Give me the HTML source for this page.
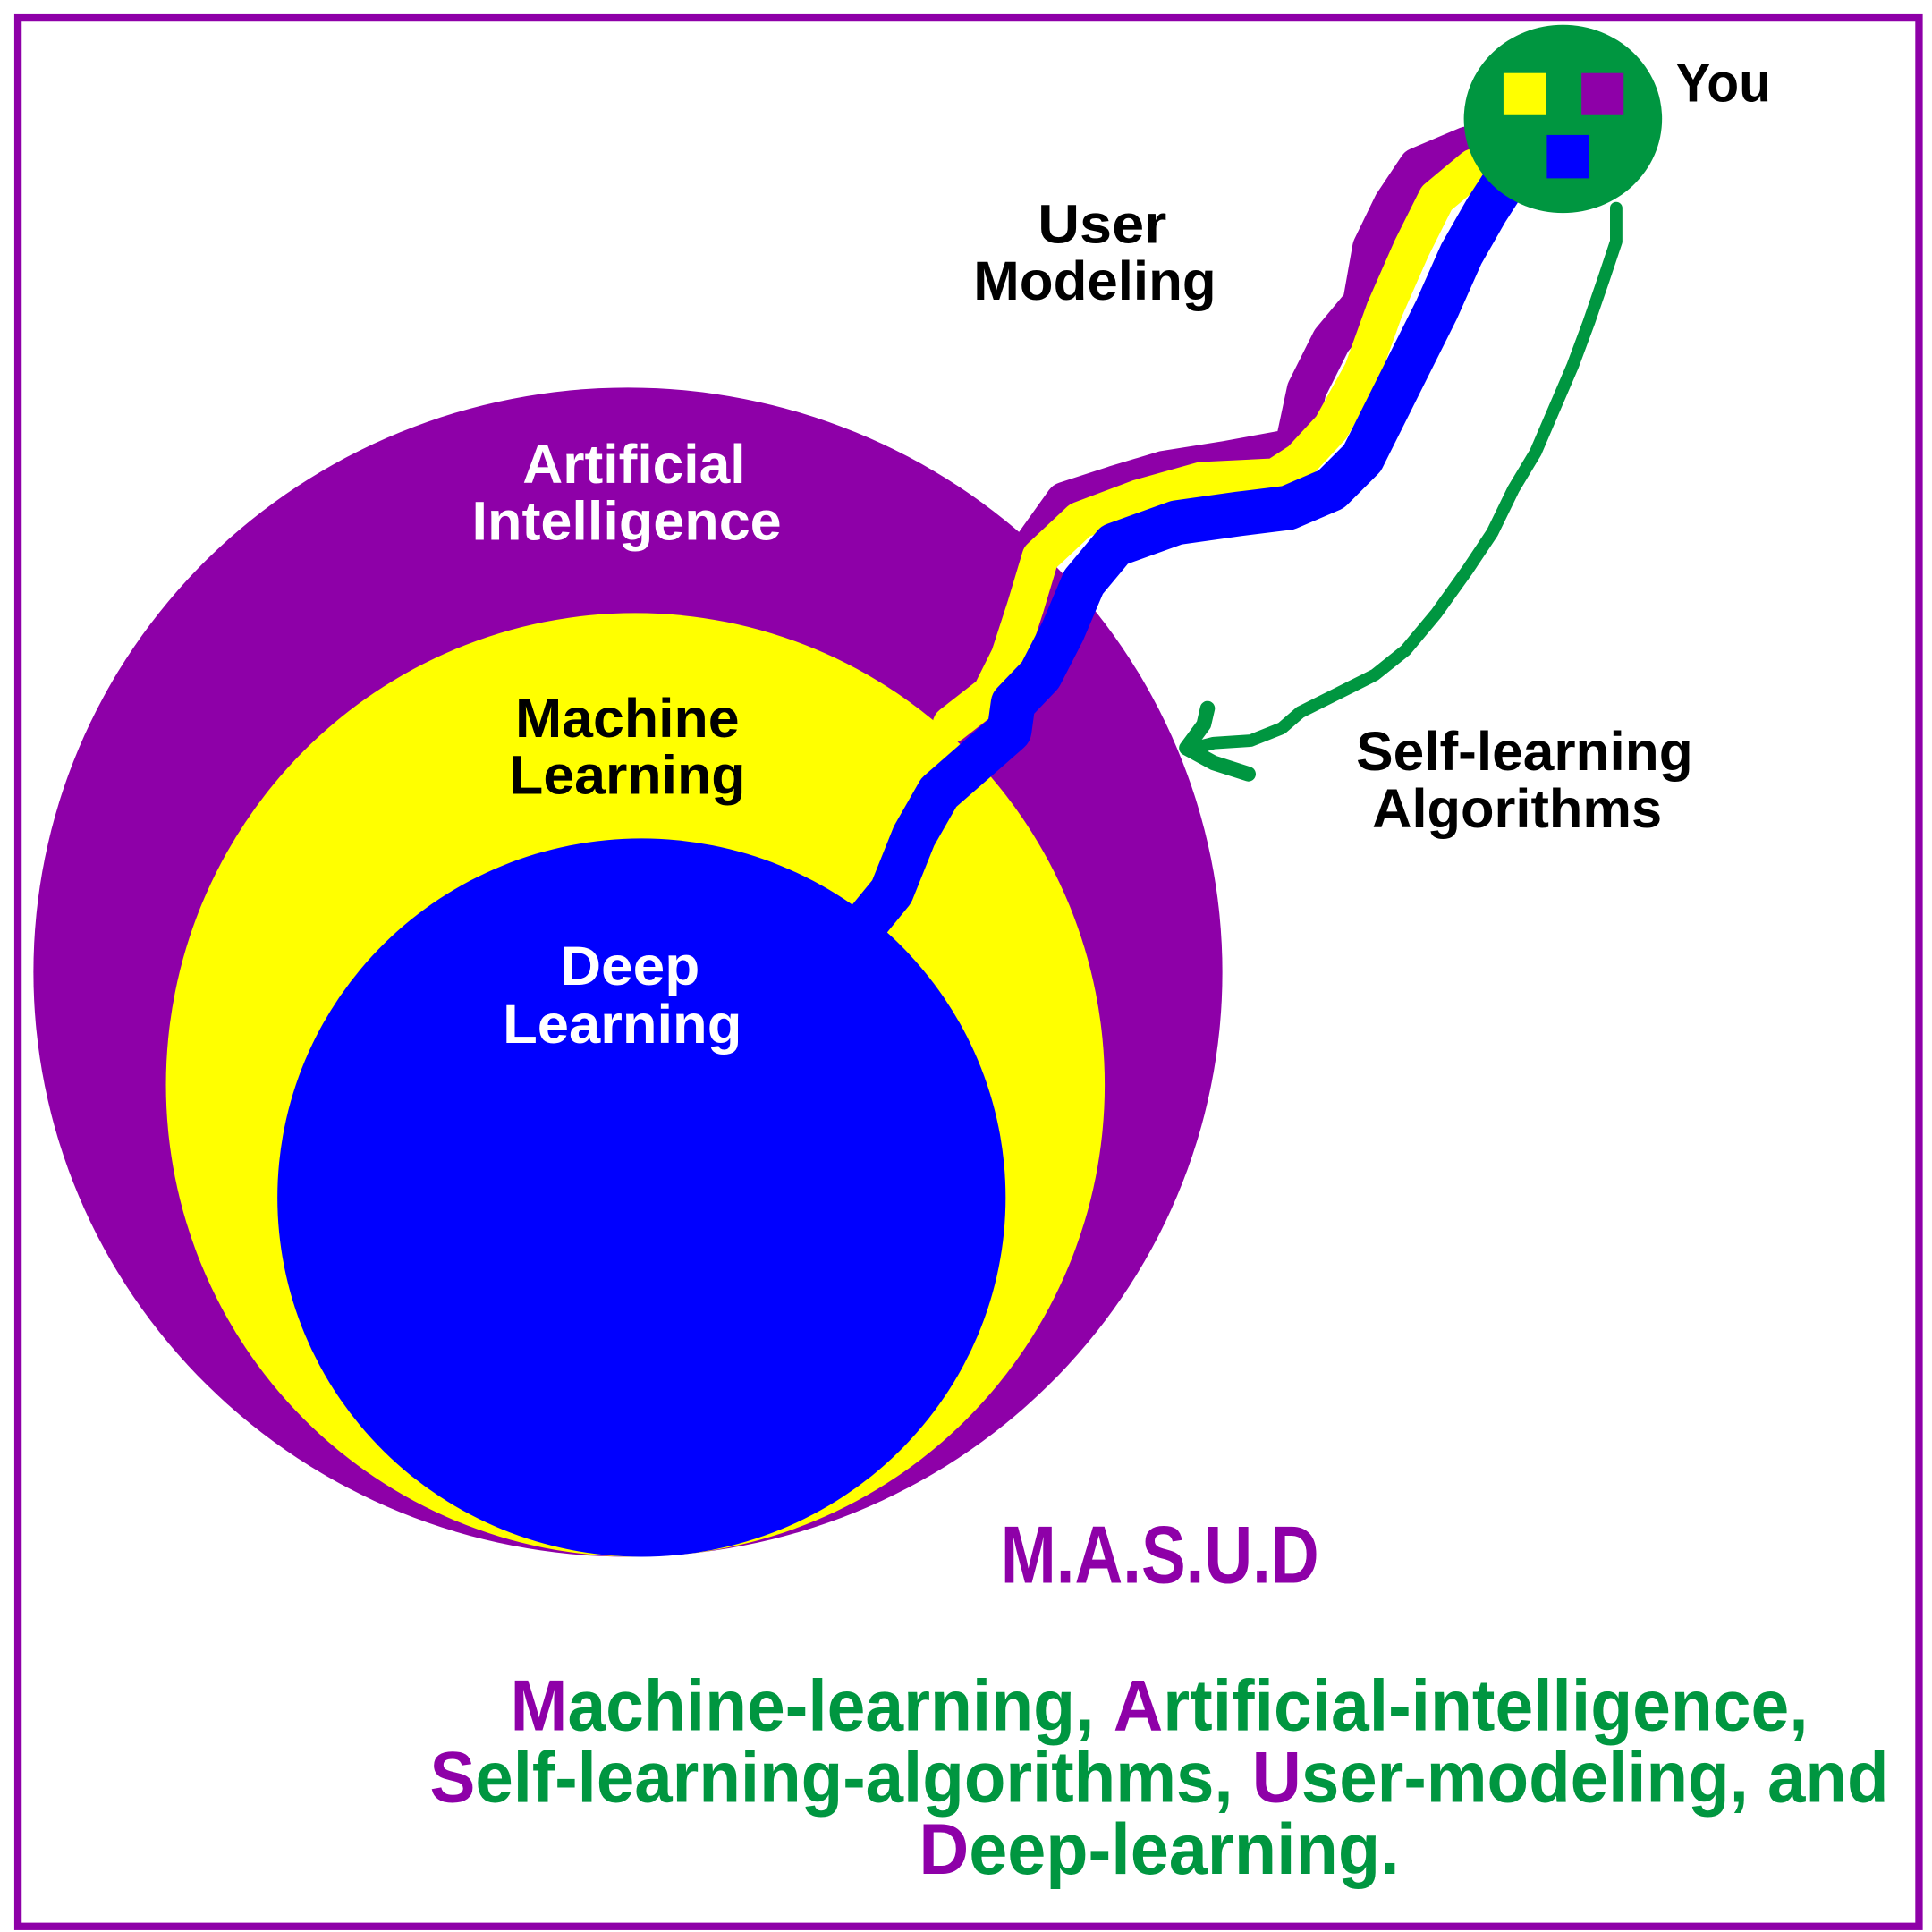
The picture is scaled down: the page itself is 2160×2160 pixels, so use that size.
<!DOCTYPE html>
<html><head><meta charset="utf-8"><style>html,body{margin:0;padding:0;background:#fff}svg{display:block}</style></head>
<body>
<svg width="2160" height="2160" viewBox="0 0 1560 1560" xmlns="http://www.w3.org/2000/svg">
<rect x="0" y="0" width="1560" height="1560" fill="#fff"/>
<rect x="14.5" y="14.5" width="1535" height="1541" fill="none" stroke="#8e00a8" stroke-width="6"/>
<ellipse cx="507" cy="785" rx="480" ry="472" fill="#8e00a8"/>
<ellipse cx="513" cy="876" rx="379" ry="381" fill="#ffff00"/>
<ellipse cx="518" cy="967" rx="294" ry="290" fill="#0000ff"/>
<g fill="none" stroke-linejoin="round" stroke-linecap="round">
<polyline stroke="#8e00a8" stroke-width="32" points="835,440 860,405 900,392 940,380 990,372 1045,362 1055,315 1075,275 1100,245 1108,200 1125,165 1145,135 1185,118"/>
<polyline stroke="#ffff00" stroke-width="30" points="768,585 800,560 815,530 828,490 840,450 872,420 920,402 970,388 1030,385 1050,372 1075,345 1100,300 1118,250 1140,200 1160,160 1190,135"/>
<polyline stroke="#0000ff" stroke-width="36" points="702,742 720,720 738,675 758,640 790,612 815,590 818,568 840,545 858,510 875,470 900,440 950,422 1000,415 1040,410 1075,395 1100,370 1120,330 1140,290 1160,250 1180,205 1200,170 1218,142"/>
<polyline stroke="#009640" stroke-width="10" points="1305,168 1305,195 1295,225 1283,260 1270,295 1255,330 1240,365 1222,395 1205,430 1185,460 1160,495 1135,525 1110,545 1080,560 1050,575 1035,588 1010,598 980,600 960,605"/>
<polyline stroke="#009640" stroke-width="12" points="975,572 972,585 958,604 980,616 1008,625"/>
</g>
<ellipse cx="1262" cy="96" rx="80" ry="76" fill="#009640"/>
<rect x="1214" y="59" width="34" height="34" fill="#ffff00"/>
<rect x="1277" y="59" width="34" height="34" fill="#8e00a8"/>
<rect x="1249" y="109" width="34" height="35" fill="#0000ff"/>
<g font-family="Liberation Sans, sans-serif" font-weight="bold" font-size="44" lengthAdjust="spacingAndGlyphs">
<text x="1353" y="82" textLength="77" lengthAdjust="spacingAndGlyphs">You</text>
<text x="838" y="196" textLength="104" lengthAdjust="spacingAndGlyphs">User</text>
<text x="786" y="242" textLength="196" lengthAdjust="spacingAndGlyphs">Modeling</text>
<text x="422" y="390" textLength="180" lengthAdjust="spacingAndGlyphs" fill="#fff">Artificial</text>
<text x="381" y="436" textLength="250" lengthAdjust="spacingAndGlyphs" fill="#fff">Intelligence</text>
<text x="416" y="595" textLength="181" lengthAdjust="spacingAndGlyphs">Machine</text>
<text x="411" y="641" textLength="191" lengthAdjust="spacingAndGlyphs">Learning</text>
<text x="452" y="795" textLength="113" lengthAdjust="spacingAndGlyphs" fill="#fff">Deep</text>
<text x="406" y="842" textLength="193" lengthAdjust="spacingAndGlyphs" fill="#fff">Learning</text>
<text x="1095" y="622" textLength="272" lengthAdjust="spacingAndGlyphs">Self-learning</text>
<text x="1108" y="668" textLength="234" lengthAdjust="spacingAndGlyphs">Algorithms</text>
</g>
<g font-family="Liberation Sans, sans-serif" font-weight="bold">
<text x="808" y="1278" font-size="66" textLength="257" lengthAdjust="spacingAndGlyphs" fill="#8e00a8">M.A.S.U.D</text>
<text x="412" y="1397" font-size="58" textLength="1048" lengthAdjust="spacingAndGlyphs" fill="#009640"><tspan fill="#8e00a8">M</tspan>achine-learning, <tspan fill="#8e00a8">A</tspan>rtificial-intelligence,</text>
<text x="347" y="1455" font-size="58" textLength="1178" lengthAdjust="spacingAndGlyphs" fill="#009640"><tspan fill="#8e00a8">S</tspan>elf-learning-algorithms, <tspan fill="#8e00a8">U</tspan>ser-modeling, and</text>
<text x="742" y="1513" font-size="58" textLength="388" lengthAdjust="spacingAndGlyphs" fill="#009640"><tspan fill="#8e00a8">D</tspan>eep-learning.</text>
</g>
</svg>
</body></html>
